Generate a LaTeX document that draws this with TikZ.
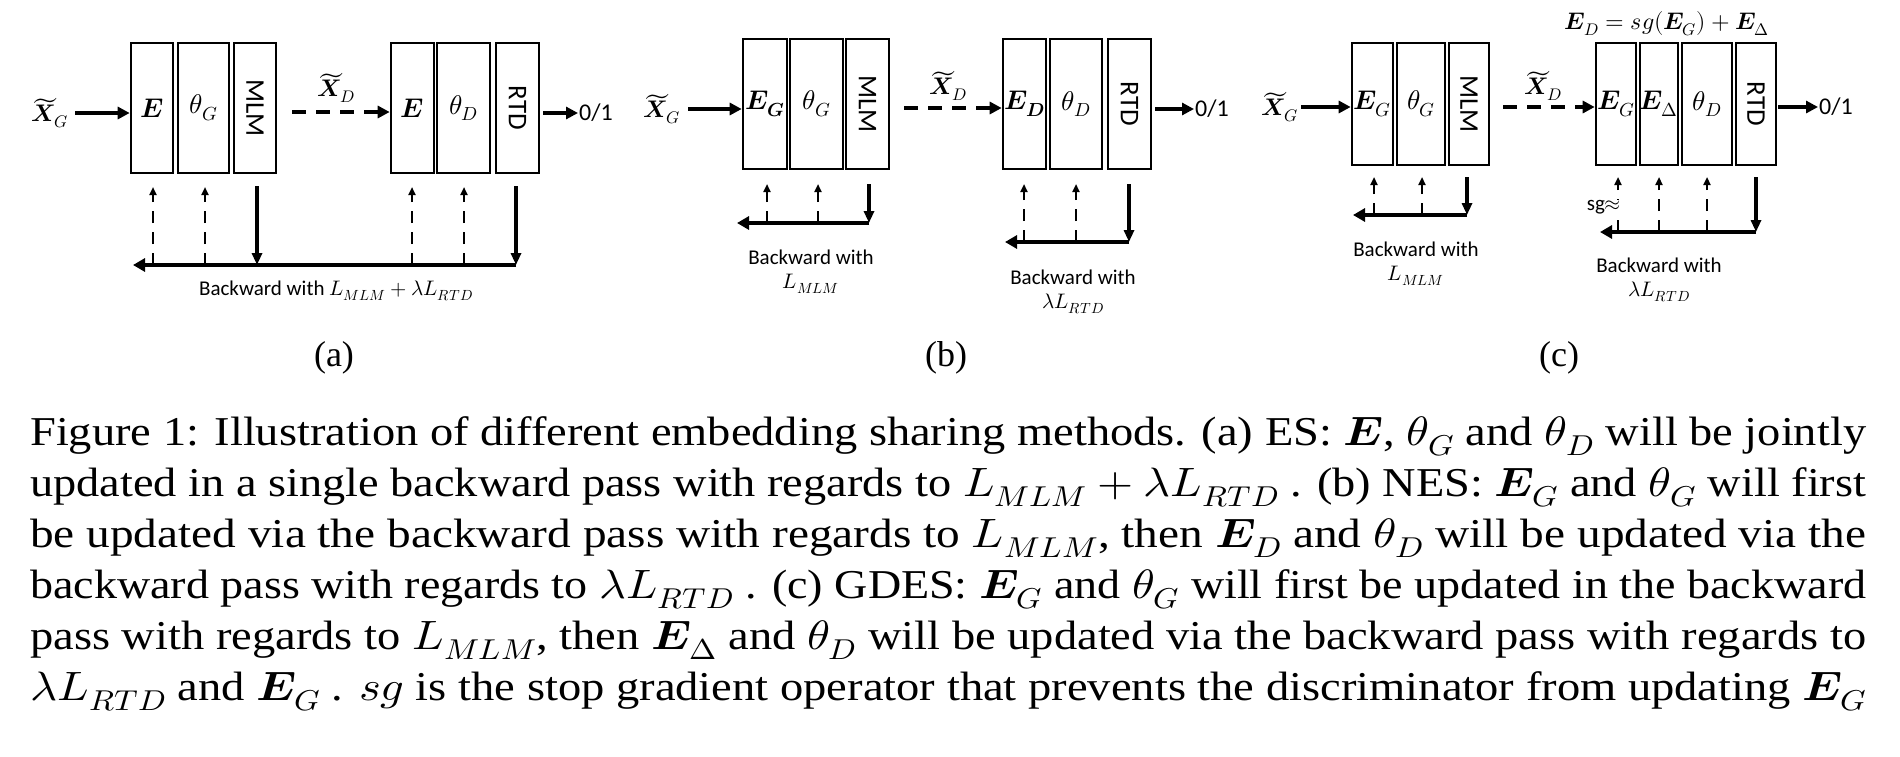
\documentclass[tikz,border=0pt]{standalone}
\usepackage{amsmath}
\usepackage{graphicx}
\usepackage{fontspec}
\usepackage{unicode-math}
\setmainfont{Liberation Serif}
\setmathfont{Latin Modern Math}
\newfontfamily\calib{Carlito}
\newcommand\bb[1]{\symbfit{#1}}
\newcommand\capline[1]{\resizebox{1836pt}{\height}{#1}}
\usetikzlibrary{arrows.meta}
\begin{document}
\begin{tikzpicture}[x=1pt,y=-1pt,
  box/.style={draw,line width=2.6pt,inner sep=0pt,font=\fontsize{27}{28}\selectfont},
  thick arrow/.style={line width=3.6pt,-{Triangle[length=12pt,width=12pt]}},
  dash arrow/.style={line width=3.2pt,dash pattern=on 14pt off 10pt,-{Triangle[length=12pt,width=12pt]}},
  up/.style={line width=2.2pt,dash pattern=on 12pt off 9pt,-{Triangle[length=8pt,width=7pt]}},
  down/.style={line width=3.2pt,-{Triangle[length=12pt,width=10pt]}},
  back/.style={line width=3.6pt,-{Triangle[length=12pt,width=13pt]}},
  lbl/.style={font=\calib\fontsize{21}{26}\selectfont,align=center},
  io/.style={font=\calib\fontsize{24}{26}\selectfont,inner sep=1pt}]
\useasboundingbox (0,0) rectangle (1900,756);
% ---------- (a)
\node[io] (xga) at (50,113) {$\widetilde{\bb{X}}_G$};
\node[box,minimum width=42pt,minimum height=130pt] (a1) at (152,108) {$\bb{E}$};
\node[box,minimum width=51pt,minimum height=130pt] (a2) at (203.5,108) {$\theta_G$};
\node[box,minimum width=42pt,minimum height=130pt] (a3) at (255,108) {\rotatebox{-90}{\calib MLM}};
\node[box,minimum width=43pt,minimum height=130pt] (a4) at (412.5,108) {$\bb{E}$};
\node[box,minimum width=53pt,minimum height=130pt] (a5) at (463.5,108) {$\theta_D$};
\node[box,minimum width=43pt,minimum height=130pt] (a6) at (517.5,108) {\rotatebox{-90}{\calib RTD}};
\node[io,anchor=west] (oa) at (578,113) {0/1};
\node[io] (xda) at (336,88) {$\widetilde{\bb{X}}_D$};
\coordinate (ga0) at (75,113);
\draw[thick arrow] (ga0) -- (a1.west|-ga0);
\coordinate (da0) at (292,112); \coordinate (da1) at (a4.west|-da0);
\draw[dash arrow] (da0) -- (da1);
\coordinate (oa0) at (543,113);
\draw[thick arrow] (oa0) -- (oa.west);
\coordinate (ba0) at (516,265); \coordinate (ba1) at (133,265);
\draw[back] (ba0) -- (ba1);
\foreach \n/\x in {p1/153,p2/205,p3/412,p4/464}{
  \coordinate (a\n b) at (\x,265); \coordinate (a\n t) at (\x,187);
  \draw[up] (a\n b) -- (a\n t);}
\coordinate (amt) at (257,186); \coordinate (amb) at (257,265);
\draw[down] (amt) -- (amb);
\coordinate (art) at (516,186);
\draw[down] (art) -- (ba0);
\node[lbl] (ta) at (336,291) {Backward with $L_{MLM}+\lambda L_{RTD}$};
\node[font=\fontsize{36}{40}\selectfont] (capa) at (334,358) {(a)};
% ---------- (b)
\node[io] (xgb) at (662,109) {$\widetilde{\bb{X}}_G$};
\node[box,minimum width=44pt,minimum height=130pt] (b1) at (765,104) {$\bb{E}_{\bb{G}}$};
\node[box,minimum width=53pt,minimum height=130pt] (b2) at (816.5,104) {$\theta_G$};
\node[box,minimum width=43pt,minimum height=130pt] (b3) at (867.5,104) {\rotatebox{-90}{\calib MLM}};
\node[box,minimum width=43pt,minimum height=130pt] (b4) at (1024.5,104) {$\bb{E}_{\bb{D}}$};
\node[box,minimum width=52pt,minimum height=130pt] (b5) at (1076,104) {$\theta_D$};
\node[box,minimum width=43pt,minimum height=130pt] (b6) at (1129.5,104) {\rotatebox{-90}{\calib RTD}};
\node[io,anchor=west] (ob) at (1194,109) {0/1};
\node[io] (xdb) at (948,86) {$\widetilde{\bb{X}}_D$};
\coordinate (gb0) at (688,109);
\draw[thick arrow] (gb0) -- (b1.west|-gb0);
\coordinate (db0) at (904,108); \coordinate (db1) at (b4.west|-db0);
\draw[dash arrow] (db0) -- (db1);
\coordinate (ob0) at (1155,109);
\draw[thick arrow] (ob0) -- (ob.west);
\coordinate (bg0) at (869,223); \coordinate (bg1) at (737,223);
\draw[back] (bg0) -- (bg1);
\coordinate (bd0) at (1129,242); \coordinate (bd1) at (1005,242);
\draw[back] (bd0) -- (bd1);
\foreach \n/\x/\y in {p1/767/223,p2/818/223,p3/1024/242,p4/1076/242}{
  \coordinate (b\n b) at (\x,\y); \coordinate (b\n t) at (\x,184);
  \draw[up] (b\n b) -- (b\n t);}
\coordinate (bmt) at (869,184); \draw[down] (bmt) -- (bg0);
\coordinate (brt) at (1129,184); \draw[down] (brt) -- (bd0);
\node[lbl] (tb1) at (811,272) {Backward with\\[-2pt]$L_{MLM}$};
\node[lbl] (tb2) at (1073,292) {Backward with\\[-2pt]$\lambda L_{RTD}$};
\node[font=\fontsize{36}{40}\selectfont] (capb) at (946,358) {(b)};
% ---------- (c)
\node[io] (xgc) at (1280,107) {$\widetilde{\bb{X}}_G$};
\node[box,minimum width=41pt,minimum height=122pt] (c1) at (1372.5,104) {$\bb{E}_G$};
\node[box,minimum width=48pt,minimum height=122pt] (c2) at (1421,104) {$\theta_G$};
\node[box,minimum width=40pt,minimum height=122pt] (c3) at (1469,104) {\rotatebox{-90}{\calib MLM}};
\node[box,minimum width=40pt,minimum height=122pt] (c4) at (1616,104) {$\bb{E}_G$};
\node[box,minimum width=38pt,minimum height=122pt] (c5) at (1659,104) {$\bb{E}_\Delta$};
\node[box,minimum width=50pt,minimum height=122pt] (c6) at (1707,104) {$\theta_D$};
\node[box,minimum width=40pt,minimum height=122pt] (c7) at (1756,104) {\rotatebox{-90}{\calib RTD}};
\node[io,anchor=west] (oc) at (1818,107) {0/1};
\node[io] (xdc) at (1543,86) {$\widetilde{\bb{X}}_D$};
\node[io] (fc) at (1667,24) {$\bb{E}_D=sg(\bb{E}_G)+\bb{E}_\Delta$};
\coordinate (gc0) at (1301,107);
\draw[thick arrow] (gc0) -- (c1.west|-gc0);
\coordinate (dc0) at (1503,107); \coordinate (dc1) at (c4.west|-dc0);
\draw[dash arrow] (dc0) -- (dc1);
\coordinate (oc0) at (1778,107);
\draw[thick arrow] (oc0) -- (oc.west);
\coordinate (cg0) at (1467,215); \coordinate (cg1) at (1353,215);
\draw[back] (cg0) -- (cg1);
\coordinate (cd0) at (1756,232); \coordinate (cd1) at (1600,232);
\draw[back] (cd0) -- (cd1);
\foreach \n/\x/\y in {p1/1374/215,p2/1422/215,p3/1618/232,p4/1659/232,p5/1707/232}{
  \coordinate (c\n b) at (\x,\y); \coordinate (c\n t) at (\x,177);
  \draw[up] (c\n b) -- (c\n t);}
\coordinate (cmt) at (1467,177); \draw[down] (cmt) -- (cg0);
\coordinate (crt) at (1756,177); \draw[down] (crt) -- (cd0);
\node[lbl,fill=white,inner sep=0pt] (sgc) at (1604,207) {sg$\approx$};
\node[lbl] (tc1) at (1416,264) {Backward with\\[-2pt]$L_{MLM}$};
\node[lbl] (tc2) at (1659,280) {Backward with\\[-2pt]$\lambda L_{RTD}$};
\node[font=\fontsize{36}{40}\selectfont] (capc) at (1559,358) {(c)};
% ---------- caption
\node[anchor=north west,inner sep=0pt,align=left,
  font=\fontsize{41}{51}\selectfont] (cap) at (30,416) {%
\capline{Figure 1: Illustration of different embedding sharing methods. (a) ES: $\bb{E}$, $\theta_G$ and $\theta_D$ will be jointly}\\
\capline{updated in a single backward pass with regards to $L_{MLM}+\lambda L_{RTD}$ . (b) NES: $\bb{E}_G$ and $\theta_G$ will first}\\
\capline{be updated via the backward pass with regards to $L_{MLM}$, then $\bb{E}_D$ and $\theta_D$ will be updated via the}\\
\capline{backward pass with regards to $\lambda L_{RTD}$ . (c) GDES: $\bb{E}_G$ and $\theta_G$ will first be updated in the backward}\\
\capline{pass with regards to $L_{MLM}$, then $\bb{E}_\Delta$ and $\theta_D$ will be updated via the backward pass with regards to}\\
\capline{$\lambda L_{RTD}$ and $\bb{E}_G$ . $sg$ is the stop gradient operator that prevents the discriminator from updating $\bb{E}_G$}};
\end{tikzpicture}
\end{document}
